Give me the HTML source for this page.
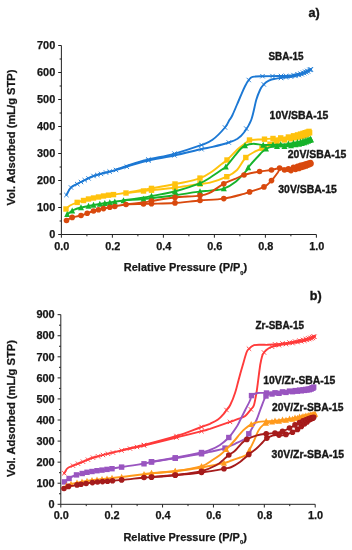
<!DOCTYPE html>
<html><head><meta charset="utf-8"><title>Isotherms</title>
<style>
html,body{margin:0;padding:0;background:#fff;}
body{width:352px;height:550px;overflow:hidden;}
svg{display:block;}
text{font-family:"Liberation Sans",sans-serif;font-weight:bold;fill:#151515;stroke:#151515;stroke-width:0.25px;}
.tk{font-size:10.9px;}
.ti{font-size:11.1px;}
.lb{font-size:10.6px;stroke-width:0.35px;}
.hd{font-size:12.6px;stroke-width:0.35px;}
</style></head><body>
<svg width="352" height="550" viewBox="0 0 352 550">
<rect width="352" height="550" fill="#fff"/>
<defs><filter id="soft" x="0" y="0" width="352" height="550" filterUnits="userSpaceOnUse"><feGaussianBlur stdDeviation="0.4"/></filter></defs>
<g id="chart-a" filter="url(#soft)">
<path d="M61.4,45.5V234.5H316.4" fill="none" stroke="#222" stroke-width="1"/>
<path d="M58.2,234.50H61.4" stroke="#222" stroke-width="1"/>
<text x="55.2" y="238.20" text-anchor="end" class="tk">0</text>
<path d="M59.6,221.00H61.4" stroke="#222" stroke-width="1"/>
<path d="M58.2,207.50H61.4" stroke="#222" stroke-width="1"/>
<text x="55.2" y="211.20" text-anchor="end" class="tk">100</text>
<path d="M59.6,194.00H61.4" stroke="#222" stroke-width="1"/>
<path d="M58.2,180.50H61.4" stroke="#222" stroke-width="1"/>
<text x="55.2" y="184.20" text-anchor="end" class="tk">200</text>
<path d="M59.6,167.00H61.4" stroke="#222" stroke-width="1"/>
<path d="M58.2,153.50H61.4" stroke="#222" stroke-width="1"/>
<text x="55.2" y="157.20" text-anchor="end" class="tk">300</text>
<path d="M59.6,140.00H61.4" stroke="#222" stroke-width="1"/>
<path d="M58.2,126.50H61.4" stroke="#222" stroke-width="1"/>
<text x="55.2" y="130.20" text-anchor="end" class="tk">400</text>
<path d="M59.6,113.00H61.4" stroke="#222" stroke-width="1"/>
<path d="M58.2,99.50H61.4" stroke="#222" stroke-width="1"/>
<text x="55.2" y="103.20" text-anchor="end" class="tk">500</text>
<path d="M59.6,86.00H61.4" stroke="#222" stroke-width="1"/>
<path d="M58.2,72.50H61.4" stroke="#222" stroke-width="1"/>
<text x="55.2" y="76.20" text-anchor="end" class="tk">600</text>
<path d="M59.6,59.00H61.4" stroke="#222" stroke-width="1"/>
<path d="M58.2,45.50H61.4" stroke="#222" stroke-width="1"/>
<text x="55.2" y="49.20" text-anchor="end" class="tk">700</text>
<path d="M61.40,234.5v3.2" stroke="#222" stroke-width="1"/>
<text x="61.80" y="249.6" text-anchor="middle" class="tk">0.0</text>
<path d="M86.90,234.5v1.8" stroke="#222" stroke-width="1"/>
<path d="M112.40,234.5v3.2" stroke="#222" stroke-width="1"/>
<text x="112.80" y="249.6" text-anchor="middle" class="tk">0.2</text>
<path d="M137.90,234.5v1.8" stroke="#222" stroke-width="1"/>
<path d="M163.40,234.5v3.2" stroke="#222" stroke-width="1"/>
<text x="163.80" y="249.6" text-anchor="middle" class="tk">0.4</text>
<path d="M188.90,234.5v1.8" stroke="#222" stroke-width="1"/>
<path d="M214.40,234.5v3.2" stroke="#222" stroke-width="1"/>
<text x="214.80" y="249.6" text-anchor="middle" class="tk">0.6</text>
<path d="M239.90,234.5v1.8" stroke="#222" stroke-width="1"/>
<path d="M265.40,234.5v3.2" stroke="#222" stroke-width="1"/>
<text x="265.80" y="249.6" text-anchor="middle" class="tk">0.8</text>
<path d="M290.90,234.5v1.8" stroke="#222" stroke-width="1"/>
<path d="M316.40,234.5v3.2" stroke="#222" stroke-width="1"/>
<text x="316.80" y="249.6" text-anchor="middle" class="tk">1.0</text>
<path d="M66.4,195.0C67.2,193.8 68.6,189.7 71.0,187.5C73.4,185.3 77.2,183.9 81.0,182.0C84.8,180.1 89.3,177.6 93.5,176.0C97.7,174.4 102.2,173.5 106.0,172.5C109.8,171.5 109.7,171.8 116.0,170.0C122.3,168.2 134.3,163.9 144.0,161.5C153.7,159.1 164.5,157.5 174.0,155.5C183.5,153.5 194.6,150.7 201.0,149.3C207.4,147.9 207.9,148.0 212.5,146.9C217.1,145.8 224.6,143.9 228.8,142.5C232.9,141.1 235.0,140.4 237.5,138.8C240.0,137.1 241.7,135.6 244.0,132.5C246.3,129.4 249.2,125.4 251.2,120.0C253.3,114.6 254.8,105.0 256.2,100.0C257.7,95.0 258.8,92.6 260.0,90.0C261.2,87.4 262.3,86.0 263.8,84.4C265.2,82.8 266.9,81.5 268.8,80.6C270.6,79.7 272.5,79.2 275.0,78.8C277.5,78.2 281.8,77.9 284.0,77.6C286.2,77.3 286.8,77.2 288.5,77.0C290.2,76.8 291.9,76.6 294.0,76.2C296.1,75.8 298.8,75.3 301.0,74.6C303.2,73.9 305.6,72.7 307.0,72.0C308.4,71.3 308.9,71.0 309.5,70.6C310.1,70.2 310.6,69.8 310.8,69.6" fill="none" stroke="#1b78d4" stroke-width="1.9" stroke-linejoin="round" stroke-linecap="round"/>
<path d="M310.8,69.1C310.6,69.2 310.4,69.5 309.8,69.8C309.2,70.1 308.5,70.4 307.0,71.0C305.5,71.6 303.2,72.8 301.0,73.5C298.8,74.2 296.1,74.6 294.0,75.0C291.9,75.4 290.2,75.6 288.5,75.8C286.8,76.0 286.7,76.0 284.0,76.0C281.3,76.0 276.1,76.1 272.5,76.1C268.9,76.1 265.8,76.1 262.5,76.2C259.2,76.3 254.8,76.3 252.5,76.9C250.2,77.5 250.0,78.4 248.8,80.0C247.5,81.6 246.5,83.3 245.0,86.2C243.5,89.2 242.1,92.7 240.0,97.5C237.9,102.3 234.3,111.2 232.5,115.0C230.7,118.8 230.7,117.9 229.4,120.0C228.2,122.1 227.8,124.2 225.0,127.5C222.2,130.8 216.5,136.9 212.5,139.8C208.5,142.8 207.4,142.9 201.0,145.2C194.6,147.5 183.5,151.2 174.0,153.8C164.5,156.4 153.7,157.9 144.0,160.5C134.3,163.1 120.7,168.0 116.0,169.5" fill="none" stroke="#1b78d4" stroke-width="1.9" stroke-linejoin="round" stroke-linecap="round"/>
<path d="M64.2,192.8L68.6,197.2M64.2,197.2L68.6,192.8" stroke="#1b78d4" stroke-width="0.9" fill="none"/>
<path d="M68.8,185.3L73.2,189.7M68.8,189.7L73.2,185.3" stroke="#1b78d4" stroke-width="0.9" fill="none"/>
<path d="M75.0,181.9L79.5,186.3M75.0,186.3L79.5,181.9" stroke="#1b78d4" stroke-width="0.9" fill="none"/>
<path d="M78.8,179.8L83.2,184.2M78.8,184.2L83.2,179.8" stroke="#1b78d4" stroke-width="0.9" fill="none"/>
<path d="M82.5,178.0L87.0,182.4M82.5,182.4L87.0,178.0" stroke="#1b78d4" stroke-width="0.9" fill="none"/>
<path d="M86.3,176.2L90.7,180.6M86.3,180.6L90.7,176.2" stroke="#1b78d4" stroke-width="0.9" fill="none"/>
<path d="M91.3,173.8L95.7,178.2M91.3,178.2L95.7,173.8" stroke="#1b78d4" stroke-width="0.9" fill="none"/>
<path d="M95.0,172.8L99.5,177.1M95.0,177.1L99.5,172.8" stroke="#1b78d4" stroke-width="0.9" fill="none"/>
<path d="M98.8,171.7L103.2,176.1M98.8,176.1L103.2,171.7" stroke="#1b78d4" stroke-width="0.9" fill="none"/>
<path d="M103.8,170.3L108.2,174.7M103.8,174.7L108.2,170.3" stroke="#1b78d4" stroke-width="0.9" fill="none"/>
<path d="M107.5,169.4L112.0,173.8M107.5,173.8L112.0,169.4" stroke="#1b78d4" stroke-width="0.9" fill="none"/>
<path d="M113.8,167.8L118.2,172.2M113.8,172.2L118.2,167.8" stroke="#1b78d4" stroke-width="0.9" fill="none"/>
<path d="M124.6,164.5L129.0,168.9M124.6,168.9L129.0,164.5" stroke="#1b78d4" stroke-width="0.9" fill="none"/>
<path d="M146.2,158.4L150.6,162.8M146.2,162.8L150.6,158.4" stroke="#1b78d4" stroke-width="0.9" fill="none"/>
<path d="M172.3,153.2L176.7,157.6M172.3,157.6L176.7,153.2" stroke="#1b78d4" stroke-width="0.9" fill="none"/>
<path d="M199.3,147.0L203.7,151.4M199.3,151.4L203.7,147.0" stroke="#1b78d4" stroke-width="0.9" fill="none"/>
<path d="M226.6,140.3L230.9,144.7M226.6,144.7L230.9,140.3" stroke="#1b78d4" stroke-width="0.9" fill="none"/>
<path d="M244.1,126.4L248.4,130.8M244.1,130.8L248.4,126.4" stroke="#1b78d4" stroke-width="0.9" fill="none"/>
<path d="M261.6,82.2L265.9,86.6M261.6,86.6L265.9,82.2" stroke="#1b78d4" stroke-width="0.9" fill="none"/>
<path d="M278.8,75.8L283.2,80.2M278.8,80.2L283.2,75.8" stroke="#1b78d4" stroke-width="0.9" fill="none"/>
<path d="M283.8,75.1L288.2,79.5M283.8,79.5L288.2,75.1" stroke="#1b78d4" stroke-width="0.9" fill="none"/>
<path d="M288.8,74.4L293.2,78.8M288.8,78.8L293.2,74.4" stroke="#1b78d4" stroke-width="0.9" fill="none"/>
<path d="M293.3,73.7L297.7,78.1M293.3,78.1L297.7,73.7" stroke="#1b78d4" stroke-width="0.9" fill="none"/>
<path d="M296.8,72.9L301.2,77.3M296.8,77.3L301.2,72.9" stroke="#1b78d4" stroke-width="0.9" fill="none"/>
<path d="M299.6,72.1L304.0,76.5M299.6,76.5L304.0,72.1" stroke="#1b78d4" stroke-width="0.9" fill="none"/>
<path d="M302.0,71.0L306.4,75.4M302.0,75.4L306.4,71.0" stroke="#1b78d4" stroke-width="0.9" fill="none"/>
<path d="M304.0,70.1L308.4,74.5M304.0,74.5L308.4,70.1" stroke="#1b78d4" stroke-width="0.9" fill="none"/>
<path d="M305.8,69.2L310.2,73.6M305.8,73.6L310.2,69.2" stroke="#1b78d4" stroke-width="0.9" fill="none"/>
<path d="M308.4,67.6L312.8,72.0M308.4,72.0L312.8,67.6" stroke="#1b78d4" stroke-width="0.9" fill="none"/>
<path d="M260.3,74.0L264.7,78.4M260.3,78.4L264.7,74.0" stroke="#1b78d4" stroke-width="0.9" fill="none"/>
<path d="M270.3,73.9L274.7,78.3M270.3,78.3L274.7,73.9" stroke="#1b78d4" stroke-width="0.9" fill="none"/>
<path d="M278.8,73.8L283.2,78.2M278.8,78.2L283.2,73.8" stroke="#1b78d4" stroke-width="0.9" fill="none"/>
<path d="M283.8,73.7L288.2,78.1M283.8,78.1L288.2,73.7" stroke="#1b78d4" stroke-width="0.9" fill="none"/>
<path d="M246.6,77.8L250.9,82.2M246.6,82.2L250.9,77.8" stroke="#1b78d4" stroke-width="0.9" fill="none"/>
<path d="M222.8,125.3L227.2,129.7M222.8,129.7L227.2,125.3" stroke="#1b78d4" stroke-width="0.9" fill="none"/>
<path d="M199.3,142.8L203.7,147.2M199.3,147.2L203.7,142.8" stroke="#1b78d4" stroke-width="0.9" fill="none"/>
<path d="M172.3,151.4L176.7,155.8M172.3,155.8L176.7,151.4" stroke="#1b78d4" stroke-width="0.9" fill="none"/>
<path d="M146.2,157.3L150.6,161.7M146.2,161.7L150.6,157.3" stroke="#1b78d4" stroke-width="0.9" fill="none"/>
<path d="M291.3,72.9L295.7,77.3M291.3,77.3L295.7,72.9" stroke="#1b78d4" stroke-width="0.9" fill="none"/>
<path d="M295.3,72.0L299.7,76.5M295.3,76.5L299.7,72.0" stroke="#1b78d4" stroke-width="0.9" fill="none"/>
<path d="M298.3,71.4L302.7,75.8M298.3,75.8L302.7,71.4" stroke="#1b78d4" stroke-width="0.9" fill="none"/>
<path d="M300.8,70.5L305.2,74.9M300.8,74.9L305.2,70.5" stroke="#1b78d4" stroke-width="0.9" fill="none"/>
<path d="M303.0,69.5L307.4,74.0M303.0,74.0L307.4,69.5" stroke="#1b78d4" stroke-width="0.9" fill="none"/>
<path d="M305.0,68.7L309.4,73.1M305.0,73.1L309.4,68.7" stroke="#1b78d4" stroke-width="0.9" fill="none"/>
<path d="M307.4,67.7L311.8,72.1M307.4,72.1L311.8,67.7" stroke="#1b78d4" stroke-width="0.9" fill="none"/>
<path d="M308.5,67.0L312.9,71.4M308.5,71.4L312.9,67.0" stroke="#1b78d4" stroke-width="0.9" fill="none"/>
<path d="M65.5,209.4C66.2,208.8 68.1,206.7 70.0,205.5C71.9,204.3 73.9,203.6 77.0,202.5C80.1,201.4 83.7,200.2 88.5,199.0C93.3,197.8 99.8,196.5 106.0,195.5C112.2,194.5 119.8,193.8 126.0,193.0C132.2,192.2 135.1,191.9 143.5,191.0C151.9,190.1 167.2,188.7 176.5,187.5C185.8,186.3 193.4,184.8 199.0,184.0C204.6,183.2 205.4,183.9 210.0,182.7C214.6,181.5 222.3,178.8 226.8,176.7C231.3,174.6 233.8,173.2 237.0,170.0C240.2,166.8 242.6,160.6 245.8,157.5C248.9,154.4 252.4,153.1 255.8,151.2C259.1,149.4 262.9,147.8 266.0,146.2C269.1,144.7 271.0,142.9 274.5,141.8C278.0,140.7 282.8,140.4 287.0,139.6C291.2,138.8 296.3,137.8 299.5,137.0C302.7,136.2 304.2,135.5 306.0,134.8C307.8,134.1 309.3,133.0 310.0,132.6" fill="none" stroke="#ffc20a" stroke-width="1.9" stroke-linejoin="round" stroke-linecap="round"/>
<path d="M310.0,131.0C309.3,131.2 307.8,131.9 306.0,132.5C304.2,133.1 302.7,133.6 299.5,134.4C296.3,135.2 291.2,136.6 287.0,137.3C282.8,138.0 278.2,138.1 274.5,138.4C270.8,138.7 268.7,138.9 264.5,139.2C260.3,139.5 252.4,139.6 249.5,140.0C246.6,140.4 248.9,140.4 247.0,141.9C245.1,143.4 241.6,145.7 238.2,148.8C234.9,151.8 229.7,157.5 227.0,160.0C224.3,162.5 224.4,161.9 222.0,163.8C219.6,165.6 216.3,168.8 212.5,171.2C208.7,173.7 205.0,176.6 199.0,178.7C193.0,180.8 184.5,182.1 176.5,183.8C168.5,185.4 158.8,187.1 151.0,188.5C143.2,189.9 133.5,191.4 130.0,192.0" fill="none" stroke="#ffc20a" stroke-width="1.9" stroke-linejoin="round" stroke-linecap="round"/>
<rect x="63.3" y="206.3" width="5.4" height="5.4" fill="#ffc20a"/>
<rect x="74.5" y="199.7" width="5.4" height="5.4" fill="#ffc20a"/>
<rect x="80.8" y="197.8" width="5.4" height="5.4" fill="#ffc20a"/>
<rect x="85.8" y="196.3" width="5.4" height="5.4" fill="#ffc20a"/>
<rect x="90.8" y="195.3" width="5.4" height="5.4" fill="#ffc20a"/>
<rect x="95.8" y="194.3" width="5.4" height="5.4" fill="#ffc20a"/>
<rect x="100.8" y="193.3" width="5.4" height="5.4" fill="#ffc20a"/>
<rect x="105.8" y="192.5" width="5.4" height="5.4" fill="#ffc20a"/>
<rect x="110.8" y="191.9" width="5.4" height="5.4" fill="#ffc20a"/>
<rect x="123.3" y="190.3" width="5.4" height="5.4" fill="#ffc20a"/>
<rect x="140.8" y="188.3" width="5.4" height="5.4" fill="#ffc20a"/>
<rect x="148.8" y="187.5" width="5.4" height="5.4" fill="#ffc20a"/>
<rect x="172.3" y="185.0" width="5.4" height="5.4" fill="#ffc20a"/>
<rect x="197.3" y="181.2" width="5.4" height="5.4" fill="#ffc20a"/>
<rect x="224.1" y="174.0" width="5.4" height="5.4" fill="#ffc20a"/>
<rect x="243.1" y="154.8" width="5.4" height="5.4" fill="#ffc20a"/>
<rect x="259.3" y="145.5" width="5.4" height="5.4" fill="#ffc20a"/>
<rect x="267.3" y="141.5" width="5.4" height="5.4" fill="#ffc20a"/>
<rect x="274.3" y="138.7" width="5.4" height="5.4" fill="#ffc20a"/>
<rect x="281.8" y="137.3" width="5.4" height="5.4" fill="#ffc20a"/>
<rect x="288.3" y="136.1" width="5.4" height="5.4" fill="#ffc20a"/>
<rect x="292.8" y="135.1" width="5.4" height="5.4" fill="#ffc20a"/>
<rect x="296.3" y="134.4" width="5.4" height="5.4" fill="#ffc20a"/>
<rect x="299.1" y="133.5" width="5.4" height="5.4" fill="#ffc20a"/>
<rect x="301.5" y="132.7" width="5.4" height="5.4" fill="#ffc20a"/>
<rect x="303.5" y="132.0" width="5.4" height="5.4" fill="#ffc20a"/>
<rect x="305.3" y="131.0" width="5.4" height="5.4" fill="#ffc20a"/>
<rect x="306.9" y="130.1" width="5.4" height="5.4" fill="#ffc20a"/>
<rect x="148.8" y="185.7" width="5.4" height="5.4" fill="#ffc20a"/>
<rect x="172.3" y="181.3" width="5.4" height="5.4" fill="#ffc20a"/>
<rect x="197.3" y="175.4" width="5.4" height="5.4" fill="#ffc20a"/>
<rect x="224.3" y="157.3" width="5.4" height="5.4" fill="#ffc20a"/>
<rect x="246.8" y="137.3" width="5.4" height="5.4" fill="#ffc20a"/>
<rect x="261.8" y="136.5" width="5.4" height="5.4" fill="#ffc20a"/>
<rect x="270.3" y="135.8" width="5.4" height="5.4" fill="#ffc20a"/>
<rect x="278.0" y="135.2" width="5.4" height="5.4" fill="#ffc20a"/>
<rect x="285.7" y="134.3" width="5.4" height="5.4" fill="#ffc20a"/>
<rect x="290.8" y="133.1" width="5.4" height="5.4" fill="#ffc20a"/>
<rect x="294.8" y="132.2" width="5.4" height="5.4" fill="#ffc20a"/>
<rect x="297.8" y="131.4" width="5.4" height="5.4" fill="#ffc20a"/>
<rect x="300.3" y="130.7" width="5.4" height="5.4" fill="#ffc20a"/>
<rect x="302.5" y="130.0" width="5.4" height="5.4" fill="#ffc20a"/>
<rect x="304.5" y="129.4" width="5.4" height="5.4" fill="#ffc20a"/>
<rect x="306.3" y="128.7" width="5.4" height="5.4" fill="#ffc20a"/>
<path d="M67.0,214.4C68.1,213.7 71.2,211.2 73.5,210.0C75.8,208.8 77.7,208.3 81.0,207.5C84.3,206.7 89.3,205.8 93.5,205.0C97.7,204.2 101.0,203.8 106.0,203.0C111.0,202.2 117.2,201.2 123.5,200.5C129.8,199.8 134.7,199.9 143.5,199.0C152.3,198.1 167.2,196.2 176.5,195.0C185.8,193.8 193.4,192.3 199.0,191.6C204.6,190.9 205.9,191.1 210.0,190.6C214.1,190.1 219.5,190.1 223.8,188.6C228.1,187.1 231.8,184.8 235.7,181.7C239.6,178.6 244.9,172.4 247.0,170.0C249.1,167.6 246.6,169.6 248.2,167.5C249.9,165.4 254.0,160.6 257.0,157.5C260.0,154.4 263.0,150.6 266.0,148.8C269.0,146.9 271.5,146.7 275.0,146.2C278.5,145.8 282.9,146.6 287.0,146.2C291.1,145.8 296.3,144.6 299.5,143.9C302.7,143.2 304.1,142.7 306.0,142.0C307.9,141.3 310.2,140.2 311.0,139.8" fill="none" stroke="#17b32b" stroke-width="1.9" stroke-linejoin="round" stroke-linecap="round"/>
<path d="M311.0,139.0C310.2,139.2 307.9,139.9 306.0,140.4C304.1,140.9 302.7,141.3 299.5,141.9C296.3,142.5 291.2,143.7 287.0,144.2C282.8,144.7 278.5,144.7 274.5,144.8C270.5,144.9 266.8,145.2 263.2,145.0C259.7,144.8 256.3,143.7 253.2,143.8C250.2,143.8 247.1,144.8 245.0,145.6C242.9,146.4 242.5,147.0 240.8,148.8C239.0,150.5 237.0,153.2 234.5,156.2C232.0,159.3 227.8,164.7 225.8,166.9C223.7,169.1 224.6,167.7 222.0,169.5C219.4,171.3 213.8,175.3 210.0,177.7C206.2,180.1 204.6,181.5 199.0,183.7C193.4,185.9 184.4,188.9 176.5,191.0C168.6,193.1 156.9,194.9 151.5,196.0C146.1,197.1 148.7,196.8 144.0,197.5C139.3,198.2 126.9,199.8 123.5,200.3" fill="none" stroke="#17b32b" stroke-width="1.9" stroke-linejoin="round" stroke-linecap="round"/>
<path d="M67.2,210.9L70.2,216.9L64.2,216.9Z" fill="#17b32b"/>
<path d="M72.2,207.5L75.2,213.5L69.2,213.5Z" fill="#17b32b"/>
<path d="M81.0,204.2L84.0,210.2L78.0,210.2Z" fill="#17b32b"/>
<path d="M88.5,202.7L91.5,208.7L85.5,208.7Z" fill="#17b32b"/>
<path d="M93.5,201.7L96.5,207.7L90.5,207.7Z" fill="#17b32b"/>
<path d="M99.8,200.7L102.8,206.7L96.8,206.7Z" fill="#17b32b"/>
<path d="M104.8,199.9L107.8,205.9L101.8,205.9Z" fill="#17b32b"/>
<path d="M109.8,199.2L112.8,205.2L106.8,205.2Z" fill="#17b32b"/>
<path d="M114.8,198.5L117.8,204.4L111.8,204.4Z" fill="#17b32b"/>
<path d="M123.5,197.2L126.5,203.2L120.5,203.2Z" fill="#17b32b"/>
<path d="M143.5,195.7L146.5,201.7L140.5,201.7Z" fill="#17b32b"/>
<path d="M151.5,194.7L154.5,200.7L148.5,200.7Z" fill="#17b32b"/>
<path d="M175.0,191.9L178.0,197.9L172.0,197.9Z" fill="#17b32b"/>
<path d="M200.0,188.2L203.0,194.2L197.0,194.2Z" fill="#17b32b"/>
<path d="M223.8,185.3L226.8,191.3L220.8,191.3Z" fill="#17b32b"/>
<path d="M248.2,164.2L251.2,170.2L245.2,170.2Z" fill="#17b32b"/>
<path d="M266.0,145.5L269.0,151.4L263.0,151.4Z" fill="#17b32b"/>
<path d="M277.0,142.9L280.0,148.9L274.0,148.9Z" fill="#17b32b"/>
<path d="M284.5,142.9L287.5,148.9L281.5,148.9Z" fill="#17b32b"/>
<path d="M291.0,142.2L294.0,148.2L288.0,148.2Z" fill="#17b32b"/>
<path d="M295.5,141.3L298.5,147.3L292.5,147.3Z" fill="#17b32b"/>
<path d="M299.0,140.7L302.0,146.7L296.0,146.7Z" fill="#17b32b"/>
<path d="M301.8,139.9L304.8,145.9L298.8,145.9Z" fill="#17b32b"/>
<path d="M304.2,139.2L307.2,145.2L301.2,145.2Z" fill="#17b32b"/>
<path d="M306.2,138.6L309.2,144.6L303.2,144.6Z" fill="#17b32b"/>
<path d="M308.0,137.8L311.0,143.8L305.0,143.8Z" fill="#17b32b"/>
<path d="M309.6,137.1L312.6,143.1L306.6,143.1Z" fill="#17b32b"/>
<path d="M311.0,136.5L314.0,142.5L308.0,142.5Z" fill="#17b32b"/>
<path d="M151.5,192.7L154.5,198.7L148.5,198.7Z" fill="#17b32b"/>
<path d="M175.0,188.0L178.0,194.0L172.0,194.0Z" fill="#17b32b"/>
<path d="M200.0,179.9L203.0,185.9L197.0,185.9Z" fill="#17b32b"/>
<path d="M225.8,163.6L228.8,169.6L222.8,169.6Z" fill="#17b32b"/>
<path d="M245.0,142.3L248.0,148.3L242.0,148.3Z" fill="#17b32b"/>
<path d="M263.2,141.7L266.2,147.7L260.2,147.7Z" fill="#17b32b"/>
<path d="M273.0,141.5L276.0,147.5L270.0,147.5Z" fill="#17b32b"/>
<path d="M280.7,141.2L283.7,147.2L277.7,147.2Z" fill="#17b32b"/>
<path d="M288.4,140.6L291.4,146.6L285.4,146.6Z" fill="#17b32b"/>
<path d="M293.5,139.7L296.5,145.7L290.5,145.7Z" fill="#17b32b"/>
<path d="M297.5,139.0L300.5,145.0L294.5,145.0Z" fill="#17b32b"/>
<path d="M300.5,138.4L303.5,144.4L297.5,144.4Z" fill="#17b32b"/>
<path d="M303.0,137.8L306.0,143.8L300.0,143.8Z" fill="#17b32b"/>
<path d="M305.2,137.3L308.2,143.3L302.2,143.3Z" fill="#17b32b"/>
<path d="M307.2,136.8L310.2,142.8L304.2,142.8Z" fill="#17b32b"/>
<path d="M309.0,136.3L312.0,142.3L306.0,142.3Z" fill="#17b32b"/>
<path d="M310.5,135.8L313.5,141.8L307.5,141.8Z" fill="#17b32b"/>
<path d="M66.4,220.6C67.3,220.1 69.6,218.3 72.0,217.5C74.4,216.7 77.4,216.6 81.0,215.5C84.6,214.4 89.3,212.2 93.5,211.0C97.7,209.8 100.6,209.1 106.0,208.0C111.4,206.9 119.8,205.2 126.0,204.5C132.2,203.8 139.2,204.1 143.5,204.0C147.8,203.9 146.4,203.9 151.5,203.8C156.6,203.6 165.9,203.5 174.0,203.0C182.1,202.5 191.7,201.2 200.0,200.5C208.3,199.8 216.5,199.7 223.8,198.6C231.1,197.5 239.7,194.9 244.0,193.8C248.3,192.6 246.3,193.0 249.6,191.9C252.9,190.8 260.4,188.8 264.0,186.9C267.6,185.0 269.2,183.0 271.5,180.6C273.8,178.2 276.4,174.4 277.8,172.5C279.1,170.6 278.7,169.9 279.6,169.4C280.5,168.9 281.5,169.2 283.0,169.5C284.5,169.8 286.5,171.2 288.5,171.2C290.5,171.2 292.7,170.3 294.8,169.7C296.8,169.1 298.9,168.5 301.0,167.8C303.1,167.1 305.5,166.2 307.2,165.5C309.0,164.8 310.8,163.8 311.5,163.5" fill="none" stroke="#d9480b" stroke-width="1.9" stroke-linejoin="round" stroke-linecap="round"/>
<path d="M311.5,162.2C310.8,162.4 309.0,163.0 307.2,163.5C305.5,164.0 303.1,164.7 301.0,165.3C298.9,165.9 296.9,166.5 294.8,167.1C292.6,167.7 290.5,168.6 288.0,168.8C285.5,169.0 282.4,167.9 279.6,168.1C276.9,168.3 274.8,169.4 271.5,170.0C268.2,170.6 264.2,170.7 259.6,171.5C255.0,172.3 248.0,173.8 244.0,175.0C240.0,176.2 239.1,177.2 235.7,178.7C232.3,180.1 228.1,181.4 223.8,183.7C219.5,186.0 214.0,190.6 210.0,192.6C206.0,194.6 206.0,194.8 200.0,195.6C194.0,196.4 182.1,196.6 174.0,197.5C165.9,198.4 156.5,200.2 151.5,201.0C146.5,201.8 148.2,201.9 144.0,202.5C139.8,203.1 129.0,204.0 126.0,204.3" fill="none" stroke="#d9480b" stroke-width="1.9" stroke-linejoin="round" stroke-linecap="round"/>
<circle cx="66.5" cy="220.5" r="2.8" fill="#d9480b"/>
<circle cx="72.2" cy="217.4" r="2.8" fill="#d9480b"/>
<circle cx="81.0" cy="215.5" r="2.8" fill="#d9480b"/>
<circle cx="87.2" cy="213.2" r="2.8" fill="#d9480b"/>
<circle cx="93.5" cy="211.0" r="2.8" fill="#d9480b"/>
<circle cx="98.5" cy="209.8" r="2.8" fill="#d9480b"/>
<circle cx="103.5" cy="208.6" r="2.8" fill="#d9480b"/>
<circle cx="109.8" cy="207.3" r="2.8" fill="#d9480b"/>
<circle cx="114.8" cy="206.5" r="2.8" fill="#d9480b"/>
<circle cx="126.0" cy="204.5" r="2.8" fill="#d9480b"/>
<circle cx="143.5" cy="204.0" r="2.8" fill="#d9480b"/>
<circle cx="151.5" cy="203.8" r="2.8" fill="#d9480b"/>
<circle cx="175.0" cy="202.9" r="2.8" fill="#d9480b"/>
<circle cx="200.0" cy="200.5" r="2.8" fill="#d9480b"/>
<circle cx="223.8" cy="198.6" r="2.8" fill="#d9480b"/>
<circle cx="249.6" cy="191.9" r="2.8" fill="#d9480b"/>
<circle cx="264.0" cy="186.9" r="2.8" fill="#d9480b"/>
<circle cx="271.5" cy="180.6" r="2.8" fill="#d9480b"/>
<circle cx="284.5" cy="170.0" r="2.8" fill="#d9480b"/>
<circle cx="291.0" cy="170.6" r="2.8" fill="#d9480b"/>
<circle cx="295.5" cy="169.5" r="2.8" fill="#d9480b"/>
<circle cx="299.0" cy="168.4" r="2.8" fill="#d9480b"/>
<circle cx="301.8" cy="167.5" r="2.8" fill="#d9480b"/>
<circle cx="304.2" cy="166.6" r="2.8" fill="#d9480b"/>
<circle cx="306.2" cy="165.9" r="2.8" fill="#d9480b"/>
<circle cx="308.0" cy="165.1" r="2.8" fill="#d9480b"/>
<circle cx="309.6" cy="164.4" r="2.8" fill="#d9480b"/>
<circle cx="311.0" cy="163.7" r="2.8" fill="#d9480b"/>
<circle cx="151.5" cy="201.0" r="2.8" fill="#d9480b"/>
<circle cx="175.0" cy="197.4" r="2.8" fill="#d9480b"/>
<circle cx="200.0" cy="195.6" r="2.8" fill="#d9480b"/>
<circle cx="223.8" cy="183.7" r="2.8" fill="#d9480b"/>
<circle cx="244.0" cy="175.0" r="2.8" fill="#d9480b"/>
<circle cx="259.6" cy="171.5" r="2.8" fill="#d9480b"/>
<circle cx="271.5" cy="170.0" r="2.8" fill="#d9480b"/>
<circle cx="279.6" cy="168.1" r="2.8" fill="#d9480b"/>
<circle cx="288.4" cy="168.7" r="2.8" fill="#d9480b"/>
<circle cx="293.5" cy="167.4" r="2.8" fill="#d9480b"/>
<circle cx="297.5" cy="166.3" r="2.8" fill="#d9480b"/>
<circle cx="300.5" cy="165.4" r="2.8" fill="#d9480b"/>
<circle cx="303.0" cy="164.7" r="2.8" fill="#d9480b"/>
<circle cx="305.2" cy="164.1" r="2.8" fill="#d9480b"/>
<circle cx="307.2" cy="163.5" r="2.8" fill="#d9480b"/>
<circle cx="309.0" cy="163.0" r="2.8" fill="#d9480b"/>
<circle cx="310.5" cy="162.5" r="2.8" fill="#d9480b"/>
<text class="hd" x="308.6" y="17.2">a)</text>
<text class="lb" x="268.4" y="59.8" textLength="35.2" lengthAdjust="spacingAndGlyphs">SBA-15</text>
<text class="lb" x="269.6" y="119.2" textLength="58.7" lengthAdjust="spacingAndGlyphs">10V/SBA-15</text>
<text class="lb" x="287.8" y="158" textLength="58.5" lengthAdjust="spacingAndGlyphs">20V/SBA-15</text>
<text class="lb" x="278.3" y="193" textLength="58.5" lengthAdjust="spacingAndGlyphs">30V/SBA-15</text>
<text class="ti" x="123.8" y="271.3" textLength="123.4" lengthAdjust="spacingAndGlyphs">Relative Pressure (P/P<tspan font-size="5.8px" dy="3.3">0</tspan><tspan dy="-3.3">)</tspan></text>
<text class="ti" transform="translate(15.1,205.6) rotate(-90)" textLength="136" lengthAdjust="spacingAndGlyphs">Vol. Adsorbed (mL/g STP)</text>
</g>
<g id="chart-b" filter="url(#soft)">
<path d="M60.8,314.6V504.3H315.2" fill="none" stroke="#222" stroke-width="1"/>
<path d="M57.6,504.30H60.8" stroke="#222" stroke-width="1"/>
<text x="54.6" y="508.00" text-anchor="end" class="tk">0</text>
<path d="M59.0,493.76H60.8" stroke="#222" stroke-width="1"/>
<path d="M57.6,483.23H60.8" stroke="#222" stroke-width="1"/>
<text x="54.6" y="486.93" text-anchor="end" class="tk">100</text>
<path d="M59.0,472.69H60.8" stroke="#222" stroke-width="1"/>
<path d="M57.6,462.16H60.8" stroke="#222" stroke-width="1"/>
<text x="54.6" y="465.86" text-anchor="end" class="tk">200</text>
<path d="M59.0,451.62H60.8" stroke="#222" stroke-width="1"/>
<path d="M57.6,441.09H60.8" stroke="#222" stroke-width="1"/>
<text x="54.6" y="444.79" text-anchor="end" class="tk">300</text>
<path d="M59.0,430.56H60.8" stroke="#222" stroke-width="1"/>
<path d="M57.6,420.02H60.8" stroke="#222" stroke-width="1"/>
<text x="54.6" y="423.72" text-anchor="end" class="tk">400</text>
<path d="M59.0,409.48H60.8" stroke="#222" stroke-width="1"/>
<path d="M57.6,398.95H60.8" stroke="#222" stroke-width="1"/>
<text x="54.6" y="402.65" text-anchor="end" class="tk">500</text>
<path d="M59.0,388.42H60.8" stroke="#222" stroke-width="1"/>
<path d="M57.6,377.88H60.8" stroke="#222" stroke-width="1"/>
<text x="54.6" y="381.58" text-anchor="end" class="tk">600</text>
<path d="M59.0,367.34H60.8" stroke="#222" stroke-width="1"/>
<path d="M57.6,356.81H60.8" stroke="#222" stroke-width="1"/>
<text x="54.6" y="360.51" text-anchor="end" class="tk">700</text>
<path d="M59.0,346.27H60.8" stroke="#222" stroke-width="1"/>
<path d="M57.6,335.74H60.8" stroke="#222" stroke-width="1"/>
<text x="54.6" y="339.44" text-anchor="end" class="tk">800</text>
<path d="M59.0,325.20H60.8" stroke="#222" stroke-width="1"/>
<path d="M57.6,314.67H60.8" stroke="#222" stroke-width="1"/>
<text x="54.6" y="318.37" text-anchor="end" class="tk">900</text>
<path d="M60.80,504.3v3.2" stroke="#222" stroke-width="1"/>
<text x="61.20" y="519.4" text-anchor="middle" class="tk">0.0</text>
<path d="M86.24,504.3v1.8" stroke="#222" stroke-width="1"/>
<path d="M111.68,504.3v3.2" stroke="#222" stroke-width="1"/>
<text x="112.08" y="519.4" text-anchor="middle" class="tk">0.2</text>
<path d="M137.12,504.3v1.8" stroke="#222" stroke-width="1"/>
<path d="M162.56,504.3v3.2" stroke="#222" stroke-width="1"/>
<text x="162.96" y="519.4" text-anchor="middle" class="tk">0.4</text>
<path d="M188.00,504.3v1.8" stroke="#222" stroke-width="1"/>
<path d="M213.44,504.3v3.2" stroke="#222" stroke-width="1"/>
<text x="213.84" y="519.4" text-anchor="middle" class="tk">0.6</text>
<path d="M238.88,504.3v1.8" stroke="#222" stroke-width="1"/>
<path d="M264.32,504.3v3.2" stroke="#222" stroke-width="1"/>
<text x="264.72" y="519.4" text-anchor="middle" class="tk">0.8</text>
<path d="M289.76,504.3v1.8" stroke="#222" stroke-width="1"/>
<path d="M315.20,504.3v3.2" stroke="#222" stroke-width="1"/>
<text x="315.60" y="519.4" text-anchor="middle" class="tk">1.0</text>
<path d="M64.2,473.4C64.3,473.2 64.3,473.0 65.0,472.0C65.7,471.0 65.8,469.1 68.5,467.5C71.2,465.9 76.8,464.2 81.0,462.5C85.2,460.8 89.3,458.9 93.5,457.5C97.7,456.1 101.0,455.5 106.0,454.2C111.0,453.0 117.2,451.5 123.5,450.0C129.8,448.5 135.2,447.6 144.0,445.5C152.8,443.4 166.9,439.9 176.5,437.5C186.1,435.1 195.9,432.7 201.5,431.2C207.1,429.8 205.2,430.3 210.0,428.8C214.8,427.2 225.2,423.6 230.0,421.9C234.8,420.2 236.5,419.6 239.0,418.6C241.5,417.6 243.3,417.5 245.2,416.0C247.2,414.5 249.4,411.2 250.9,409.4C252.4,407.6 253.1,407.8 254.0,405.0C254.9,402.2 255.8,396.7 256.5,392.5C257.2,388.3 257.6,384.6 258.2,380.0C258.8,375.4 259.6,369.0 260.2,365.0C260.9,361.0 261.5,358.3 262.1,356.2C262.7,354.2 263.0,353.8 264.0,352.5C265.0,351.2 266.7,349.7 268.0,348.8C269.3,347.8 270.0,347.3 272.0,346.7C274.0,346.1 276.6,345.6 280.0,345.0C283.4,344.4 288.3,343.8 292.5,343.1C296.7,342.4 301.8,341.4 305.0,340.6C308.2,339.8 310.4,338.9 312.0,338.2C313.6,337.5 314.3,336.9 314.8,336.6" fill="none" stroke="#ff3a3a" stroke-width="1.9" stroke-linejoin="round" stroke-linecap="round"/>
<path d="M314.8,336.1C314.3,336.3 313.6,336.6 312.0,337.2C310.4,337.8 308.2,338.7 305.0,339.5C301.8,340.3 296.7,341.3 292.5,342.0C288.3,342.7 284.1,343.4 280.0,343.9C275.9,344.4 271.1,344.7 268.0,344.8C264.9,344.9 263.8,344.7 261.5,344.8C259.2,344.8 256.1,344.6 254.0,345.2C251.9,345.9 250.2,347.5 249.0,348.8C247.8,350.0 247.5,349.8 246.5,352.5C245.5,355.2 244.1,360.4 242.8,365.0C241.4,369.6 239.8,375.4 238.6,380.0C237.3,384.6 236.6,388.3 235.2,392.5C233.9,396.7 231.7,402.1 230.2,405.0C228.8,407.9 227.5,408.6 226.5,410.0C225.5,411.4 225.4,411.9 224.0,413.5C222.6,415.1 220.3,417.8 218.0,419.5C215.7,421.2 213.0,422.4 210.0,423.8C207.0,425.1 205.6,425.5 200.0,427.5C194.4,429.5 185.8,433.1 176.5,436.0C167.2,438.9 152.8,442.7 144.0,445.0C135.2,447.3 126.9,449.0 123.5,449.8" fill="none" stroke="#ff3a3a" stroke-width="1.9" stroke-linejoin="round" stroke-linecap="round"/>
<path d="M62.1,471.0L66.5,475.4M62.1,475.4L66.5,471.0" stroke="#ff3a3a" stroke-width="0.9" fill="none"/>
<path d="M70.8,463.5L75.2,467.9M70.8,467.9L75.2,463.5" stroke="#ff3a3a" stroke-width="0.9" fill="none"/>
<path d="M75.8,461.5L80.2,465.9M75.8,465.9L80.2,461.5" stroke="#ff3a3a" stroke-width="0.9" fill="none"/>
<path d="M80.8,459.5L85.2,463.9M80.8,463.9L85.2,459.5" stroke="#ff3a3a" stroke-width="0.9" fill="none"/>
<path d="M85.8,457.5L90.2,461.9M85.8,461.9L90.2,457.5" stroke="#ff3a3a" stroke-width="0.9" fill="none"/>
<path d="M90.8,455.5L95.2,459.9M90.8,459.9L95.2,455.5" stroke="#ff3a3a" stroke-width="0.9" fill="none"/>
<path d="M95.8,454.1L100.2,458.5M95.8,458.5L100.2,454.1" stroke="#ff3a3a" stroke-width="0.9" fill="none"/>
<path d="M100.8,452.8L105.2,457.2M100.8,457.2L105.2,452.8" stroke="#ff3a3a" stroke-width="0.9" fill="none"/>
<path d="M105.8,451.6L110.2,456.0M105.8,456.0L110.2,451.6" stroke="#ff3a3a" stroke-width="0.9" fill="none"/>
<path d="M110.8,450.4L115.2,454.8M110.8,454.8L115.2,450.4" stroke="#ff3a3a" stroke-width="0.9" fill="none"/>
<path d="M119.4,448.3L123.8,452.7M119.4,452.7L123.8,448.3" stroke="#ff3a3a" stroke-width="0.9" fill="none"/>
<path d="M127.8,446.4L132.2,450.8M127.8,450.8L132.2,446.4" stroke="#ff3a3a" stroke-width="0.9" fill="none"/>
<path d="M134.8,444.8L139.2,449.2M134.8,449.2L139.2,444.8" stroke="#ff3a3a" stroke-width="0.9" fill="none"/>
<path d="M141.8,443.3L146.2,447.7M141.8,447.7L146.2,443.3" stroke="#ff3a3a" stroke-width="0.9" fill="none"/>
<path d="M174.3,435.3L178.7,439.7M174.3,439.7L178.7,435.3" stroke="#ff3a3a" stroke-width="0.9" fill="none"/>
<path d="M199.3,429.1L203.7,433.4M199.3,433.4L203.7,429.1" stroke="#ff3a3a" stroke-width="0.9" fill="none"/>
<path d="M227.8,419.7L232.2,424.1M227.8,424.1L232.2,419.7" stroke="#ff3a3a" stroke-width="0.9" fill="none"/>
<path d="M248.7,407.2L253.1,411.6M248.7,411.6L253.1,407.2" stroke="#ff3a3a" stroke-width="0.9" fill="none"/>
<path d="M261.8,350.3L266.2,354.7M261.8,354.7L266.2,350.3" stroke="#ff3a3a" stroke-width="0.9" fill="none"/>
<path d="M269.8,344.5L274.2,348.9M269.8,348.9L274.2,344.5" stroke="#ff3a3a" stroke-width="0.9" fill="none"/>
<path d="M276.8,343.0L281.2,347.4M276.8,347.4L281.2,343.0" stroke="#ff3a3a" stroke-width="0.9" fill="none"/>
<path d="M283.8,341.9L288.2,346.3M283.8,346.3L288.2,341.9" stroke="#ff3a3a" stroke-width="0.9" fill="none"/>
<path d="M290.3,340.9L294.7,345.3M290.3,345.3L294.7,340.9" stroke="#ff3a3a" stroke-width="0.9" fill="none"/>
<path d="M295.3,339.9L299.7,344.3M295.3,344.3L299.7,339.9" stroke="#ff3a3a" stroke-width="0.9" fill="none"/>
<path d="M299.1,339.1L303.5,343.5M299.1,343.5L303.5,339.1" stroke="#ff3a3a" stroke-width="0.9" fill="none"/>
<path d="M302.2,338.5L306.6,342.9M302.2,342.9L306.6,338.5" stroke="#ff3a3a" stroke-width="0.9" fill="none"/>
<path d="M304.8,337.7L309.2,342.1M304.8,342.1L309.2,337.7" stroke="#ff3a3a" stroke-width="0.9" fill="none"/>
<path d="M307.1,336.9L311.5,341.3M307.1,341.3L311.5,336.9" stroke="#ff3a3a" stroke-width="0.9" fill="none"/>
<path d="M309.0,336.3L313.4,340.7M309.0,340.7L313.4,336.3" stroke="#ff3a3a" stroke-width="0.9" fill="none"/>
<path d="M310.7,335.5L315.1,339.9M310.7,339.9L315.1,335.5" stroke="#ff3a3a" stroke-width="0.9" fill="none"/>
<path d="M312.2,334.6L316.6,339.0M312.2,339.0L316.6,334.6" stroke="#ff3a3a" stroke-width="0.9" fill="none"/>
<path d="M246.8,346.6L251.2,350.9M246.8,350.9L251.2,346.6" stroke="#ff3a3a" stroke-width="0.9" fill="none"/>
<path d="M224.3,407.8L228.7,412.2M224.3,412.2L228.7,407.8" stroke="#ff3a3a" stroke-width="0.9" fill="none"/>
<path d="M199.3,424.7L203.7,429.1M199.3,429.1L203.7,424.7" stroke="#ff3a3a" stroke-width="0.9" fill="none"/>
<path d="M174.3,433.8L178.7,438.2M174.3,438.2L178.7,433.8" stroke="#ff3a3a" stroke-width="0.9" fill="none"/>
<path d="M141.8,442.8L146.2,447.2M141.8,447.2L146.2,442.8" stroke="#ff3a3a" stroke-width="0.9" fill="none"/>
<path d="M272.8,342.1L277.2,346.5M272.8,346.5L277.2,342.1" stroke="#ff3a3a" stroke-width="0.9" fill="none"/>
<path d="M280.3,341.3L284.7,345.7M280.3,345.7L284.7,341.3" stroke="#ff3a3a" stroke-width="0.9" fill="none"/>
<path d="M287.3,340.3L291.7,344.7M287.3,344.7L291.7,340.3" stroke="#ff3a3a" stroke-width="0.9" fill="none"/>
<path d="M292.8,339.3L297.2,343.7M292.8,343.7L297.2,339.3" stroke="#ff3a3a" stroke-width="0.9" fill="none"/>
<path d="M297.3,338.4L301.7,342.8M297.3,342.8L301.7,338.4" stroke="#ff3a3a" stroke-width="0.9" fill="none"/>
<path d="M300.8,337.7L305.2,342.1M300.8,342.1L305.2,337.7" stroke="#ff3a3a" stroke-width="0.9" fill="none"/>
<path d="M303.6,337.0L308.0,341.4M303.6,341.4L308.0,337.0" stroke="#ff3a3a" stroke-width="0.9" fill="none"/>
<path d="M306.0,336.2L310.4,340.6M306.0,340.6L310.4,336.2" stroke="#ff3a3a" stroke-width="0.9" fill="none"/>
<path d="M308.1,335.6L312.5,340.0M308.1,340.0L312.5,335.6" stroke="#ff3a3a" stroke-width="0.9" fill="none"/>
<path d="M309.9,335.0L314.3,339.4M309.9,339.4L314.3,335.0" stroke="#ff3a3a" stroke-width="0.9" fill="none"/>
<path d="M311.5,334.3L315.9,338.7M311.5,338.7L315.9,334.3" stroke="#ff3a3a" stroke-width="0.9" fill="none"/>
<path d="M63.8,482.5C64.5,481.9 66.5,480.0 68.5,478.8C70.5,477.5 73.1,476.0 76.0,475.0C78.9,474.0 82.2,473.2 86.0,472.5C89.8,471.8 94.8,471.0 98.5,470.5C102.2,470.0 104.3,469.9 108.5,469.2C112.7,468.6 117.6,467.7 123.5,466.8C129.4,465.8 139.3,464.5 144.0,463.8C148.7,463.0 146.3,462.9 151.5,462.0C156.7,461.1 166.9,459.6 175.2,458.2C183.6,456.9 195.7,454.8 201.5,453.8C207.3,452.7 206.1,452.8 210.0,451.9C213.9,451.0 220.8,449.5 225.0,448.1C229.2,446.7 231.7,445.3 235.0,443.8C238.3,442.2 242.7,440.4 245.0,438.8C247.3,437.1 247.5,435.6 248.8,433.8C250.0,431.9 251.2,429.8 252.5,427.5C253.8,425.2 255.2,422.9 256.5,420.0C257.8,417.1 259.0,413.3 260.2,410.0C261.5,406.7 263.0,402.5 264.0,400.0C265.0,397.5 265.5,396.0 266.5,395.0C267.5,394.0 268.8,394.1 270.0,393.9C271.2,393.7 270.5,394.3 273.5,394.0C276.5,393.7 284.1,392.6 287.8,392.2C291.6,391.8 293.5,391.6 296.0,391.3C298.5,391.0 300.7,390.9 303.0,390.6C305.3,390.3 308.1,390.1 310.0,389.6C311.9,389.1 313.5,387.9 314.2,387.6" fill="none" stroke="#9954c0" stroke-width="1.9" stroke-linejoin="round" stroke-linecap="round"/>
<path d="M314.2,386.9C313.5,387.2 311.9,388.3 310.0,388.8C308.1,389.3 305.3,389.5 303.0,389.8C300.7,390.1 298.5,390.3 296.0,390.5C293.5,390.7 291.6,390.8 287.8,391.2C284.1,391.6 277.1,392.7 273.5,393.0C269.9,393.3 269.1,393.0 266.5,393.0C263.9,393.0 260.2,392.6 257.8,393.0C255.2,393.4 252.8,394.4 251.5,395.6C250.2,396.8 251.3,397.6 250.2,400.0C249.2,402.4 246.9,406.7 245.2,410.0C243.6,413.3 241.8,417.1 240.2,420.0C238.8,422.9 238.2,424.6 236.2,427.5C234.3,430.4 231.5,434.6 228.8,437.5C226.0,440.4 223.1,442.9 220.0,445.0C216.9,447.1 213.1,448.8 210.0,450.0C206.9,451.2 207.3,451.2 201.5,452.5C195.7,453.8 183.6,456.3 175.2,457.8C166.9,459.3 155.5,461.1 151.5,461.7" fill="none" stroke="#9954c0" stroke-width="1.9" stroke-linejoin="round" stroke-linecap="round"/>
<rect x="61.8" y="479.2" width="5.4" height="5.4" fill="#9954c0"/>
<rect x="66.4" y="475.8" width="5.4" height="5.4" fill="#9954c0"/>
<rect x="73.8" y="472.2" width="5.4" height="5.4" fill="#9954c0"/>
<rect x="79.5" y="470.8" width="5.4" height="5.4" fill="#9954c0"/>
<rect x="84.3" y="469.6" width="5.4" height="5.4" fill="#9954c0"/>
<rect x="89.3" y="468.8" width="5.4" height="5.4" fill="#9954c0"/>
<rect x="94.3" y="468.0" width="5.4" height="5.4" fill="#9954c0"/>
<rect x="99.3" y="467.4" width="5.4" height="5.4" fill="#9954c0"/>
<rect x="104.3" y="466.7" width="5.4" height="5.4" fill="#9954c0"/>
<rect x="109.3" y="466.0" width="5.4" height="5.4" fill="#9954c0"/>
<rect x="118.9" y="464.4" width="5.4" height="5.4" fill="#9954c0"/>
<rect x="141.3" y="461.1" width="5.4" height="5.4" fill="#9954c0"/>
<rect x="148.8" y="459.3" width="5.4" height="5.4" fill="#9954c0"/>
<rect x="172.6" y="455.6" width="5.4" height="5.4" fill="#9954c0"/>
<rect x="198.8" y="451.1" width="5.4" height="5.4" fill="#9954c0"/>
<rect x="222.3" y="445.4" width="5.4" height="5.4" fill="#9954c0"/>
<rect x="246.1" y="431.1" width="5.4" height="5.4" fill="#9954c0"/>
<rect x="263.3" y="393.3" width="5.4" height="5.4" fill="#9954c0"/>
<rect x="269.3" y="391.3" width="5.4" height="5.4" fill="#9954c0"/>
<rect x="276.3" y="390.6" width="5.4" height="5.4" fill="#9954c0"/>
<rect x="283.3" y="389.7" width="5.4" height="5.4" fill="#9954c0"/>
<rect x="289.8" y="389.0" width="5.4" height="5.4" fill="#9954c0"/>
<rect x="294.8" y="388.5" width="5.4" height="5.4" fill="#9954c0"/>
<rect x="298.6" y="388.1" width="5.4" height="5.4" fill="#9954c0"/>
<rect x="301.7" y="387.7" width="5.4" height="5.4" fill="#9954c0"/>
<rect x="304.3" y="387.3" width="5.4" height="5.4" fill="#9954c0"/>
<rect x="306.6" y="387.0" width="5.4" height="5.4" fill="#9954c0"/>
<rect x="308.5" y="386.3" width="5.4" height="5.4" fill="#9954c0"/>
<rect x="310.2" y="385.5" width="5.4" height="5.4" fill="#9954c0"/>
<rect x="148.8" y="459.0" width="5.4" height="5.4" fill="#9954c0"/>
<rect x="172.6" y="455.1" width="5.4" height="5.4" fill="#9954c0"/>
<rect x="198.8" y="449.8" width="5.4" height="5.4" fill="#9954c0"/>
<rect x="226.1" y="434.8" width="5.4" height="5.4" fill="#9954c0"/>
<rect x="248.8" y="392.9" width="5.4" height="5.4" fill="#9954c0"/>
<rect x="263.8" y="390.3" width="5.4" height="5.4" fill="#9954c0"/>
<rect x="272.3" y="390.1" width="5.4" height="5.4" fill="#9954c0"/>
<rect x="279.8" y="389.2" width="5.4" height="5.4" fill="#9954c0"/>
<rect x="286.8" y="388.4" width="5.4" height="5.4" fill="#9954c0"/>
<rect x="292.3" y="387.9" width="5.4" height="5.4" fill="#9954c0"/>
<rect x="296.8" y="387.4" width="5.4" height="5.4" fill="#9954c0"/>
<rect x="300.3" y="387.1" width="5.4" height="5.4" fill="#9954c0"/>
<rect x="303.1" y="386.7" width="5.4" height="5.4" fill="#9954c0"/>
<rect x="305.5" y="386.4" width="5.4" height="5.4" fill="#9954c0"/>
<rect x="307.6" y="386.0" width="5.4" height="5.4" fill="#9954c0"/>
<rect x="309.4" y="385.1" width="5.4" height="5.4" fill="#9954c0"/>
<rect x="311.0" y="384.4" width="5.4" height="5.4" fill="#9954c0"/>
<path d="M66.0,486.0C66.8,485.7 68.5,484.7 71.0,484.0C73.5,483.3 77.2,482.7 81.0,482.0C84.8,481.3 89.3,480.5 93.5,480.0C97.7,479.5 101.0,479.3 106.0,478.8C111.0,478.3 117.2,477.6 123.5,476.8C129.8,476.0 135.4,475.1 144.0,474.2C152.6,473.3 165.7,472.4 175.2,471.2C184.8,470.1 193.4,468.9 201.5,467.5C209.6,466.1 219.0,464.2 224.0,463.0C229.0,461.8 228.8,461.4 231.5,460.5C234.2,459.6 237.5,458.4 240.0,457.5C242.5,456.6 244.7,456.2 246.2,455.0C247.8,453.8 248.2,452.3 249.4,450.0C250.7,447.7 252.2,444.6 253.8,441.2C255.3,437.9 257.1,432.8 258.8,430.0C260.4,427.2 262.4,425.6 263.8,424.4C265.1,423.1 264.9,423.0 266.9,422.5C268.9,422.0 272.4,421.9 276.0,421.5C279.6,421.1 284.3,420.5 288.5,419.8C292.7,419.1 296.8,418.2 301.0,417.4C305.2,416.6 311.1,415.3 313.5,414.8C315.9,414.3 315.0,414.4 315.3,414.3" fill="none" stroke="#ff9a1e" stroke-width="1.9" stroke-linejoin="round" stroke-linecap="round"/>
<path d="M315.3,414.0C315.0,414.1 315.9,413.9 313.5,414.3C311.1,414.7 305.2,415.8 301.0,416.6C296.8,417.4 292.7,418.3 288.5,419.0C284.3,419.7 279.7,420.4 276.0,420.8C272.3,421.2 269.1,421.1 266.2,421.2C263.4,421.4 261.2,421.4 258.8,421.9C256.2,422.4 253.5,423.3 251.2,424.4C249.0,425.5 246.9,427.2 245.0,428.8C243.1,430.3 241.7,431.9 240.0,433.8C238.3,435.6 237.3,437.4 235.0,440.0C232.7,442.6 228.8,446.9 226.2,449.4C223.8,451.9 222.3,453.2 220.0,455.0C217.7,456.8 215.6,458.1 212.5,460.0C209.4,461.9 207.7,464.4 201.5,466.2C195.3,468.1 184.8,469.8 175.2,471.0C165.7,472.2 149.2,473.3 144.0,473.8" fill="none" stroke="#ff9a1e" stroke-width="1.9" stroke-linejoin="round" stroke-linecap="round"/>
<path d="M66.5,482.5L69.5,488.5L63.5,488.5Z" fill="#ff9a1e"/>
<path d="M71.0,480.7L74.0,486.7L68.0,486.7Z" fill="#ff9a1e"/>
<path d="M77.0,479.5L80.0,485.5L74.0,485.5Z" fill="#ff9a1e"/>
<path d="M82.0,478.5L85.0,484.5L79.0,484.5Z" fill="#ff9a1e"/>
<path d="M87.0,477.7L90.0,483.7L84.0,483.7Z" fill="#ff9a1e"/>
<path d="M92.0,476.9L95.0,482.9L89.0,482.9Z" fill="#ff9a1e"/>
<path d="M97.0,476.4L100.0,482.4L94.0,482.4Z" fill="#ff9a1e"/>
<path d="M102.0,475.9L105.0,481.9L99.0,481.9Z" fill="#ff9a1e"/>
<path d="M107.0,475.4L110.0,481.4L104.0,481.4Z" fill="#ff9a1e"/>
<path d="M112.0,474.8L115.0,480.8L109.0,480.8Z" fill="#ff9a1e"/>
<path d="M121.6,473.7L124.6,479.7L118.6,479.7Z" fill="#ff9a1e"/>
<path d="M144.0,470.9L147.0,476.9L141.0,476.9Z" fill="#ff9a1e"/>
<path d="M151.5,470.2L154.5,476.2L148.5,476.2Z" fill="#ff9a1e"/>
<path d="M175.2,467.9L178.2,473.9L172.2,473.9Z" fill="#ff9a1e"/>
<path d="M201.5,464.2L204.5,470.2L198.5,470.2Z" fill="#ff9a1e"/>
<path d="M224.0,459.7L227.0,465.7L221.0,465.7Z" fill="#ff9a1e"/>
<path d="M249.4,446.7L252.4,452.7L246.4,452.7Z" fill="#ff9a1e"/>
<path d="M266.0,419.7L269.0,425.7L263.0,425.7Z" fill="#ff9a1e"/>
<path d="M272.0,418.6L275.0,424.6L269.0,424.6Z" fill="#ff9a1e"/>
<path d="M279.0,417.8L282.0,423.8L276.0,423.8Z" fill="#ff9a1e"/>
<path d="M286.0,416.8L289.0,422.8L283.0,422.8Z" fill="#ff9a1e"/>
<path d="M292.5,415.7L295.5,421.7L289.5,421.7Z" fill="#ff9a1e"/>
<path d="M297.5,414.8L300.5,420.8L294.5,420.8Z" fill="#ff9a1e"/>
<path d="M301.3,414.0L304.3,420.0L298.3,420.0Z" fill="#ff9a1e"/>
<path d="M304.4,413.4L307.4,419.4L301.4,419.4Z" fill="#ff9a1e"/>
<path d="M307.0,412.9L310.0,418.9L304.0,418.9Z" fill="#ff9a1e"/>
<path d="M309.3,412.4L312.3,418.4L306.3,418.4Z" fill="#ff9a1e"/>
<path d="M311.2,412.0L314.2,418.0L308.2,418.0Z" fill="#ff9a1e"/>
<path d="M312.9,411.6L315.9,417.6L309.9,417.6Z" fill="#ff9a1e"/>
<path d="M314.4,411.2L317.4,417.2L311.4,417.2Z" fill="#ff9a1e"/>
<path d="M151.5,469.8L154.5,475.8L148.5,475.8Z" fill="#ff9a1e"/>
<path d="M175.2,467.7L178.2,473.7L172.2,473.7Z" fill="#ff9a1e"/>
<path d="M201.5,462.9L204.5,468.9L198.5,468.9Z" fill="#ff9a1e"/>
<path d="M226.2,446.1L229.2,452.1L223.2,452.1Z" fill="#ff9a1e"/>
<path d="M251.2,421.1L254.2,427.1L248.2,427.1Z" fill="#ff9a1e"/>
<path d="M266.2,417.9L269.2,423.9L263.2,423.9Z" fill="#ff9a1e"/>
<path d="M275.0,417.5L278.0,423.5L272.0,423.5Z" fill="#ff9a1e"/>
<path d="M282.5,416.6L285.5,422.6L279.5,422.6Z" fill="#ff9a1e"/>
<path d="M289.5,415.5L292.5,421.5L286.5,421.5Z" fill="#ff9a1e"/>
<path d="M295.0,414.5L298.0,420.5L292.0,420.5Z" fill="#ff9a1e"/>
<path d="M299.5,413.6L302.5,419.6L296.5,419.6Z" fill="#ff9a1e"/>
<path d="M303.0,412.9L306.0,418.9L300.0,418.9Z" fill="#ff9a1e"/>
<path d="M305.8,412.4L308.8,418.4L302.8,418.4Z" fill="#ff9a1e"/>
<path d="M308.2,412.0L311.2,418.0L305.2,418.0Z" fill="#ff9a1e"/>
<path d="M310.3,411.6L313.3,417.6L307.3,417.6Z" fill="#ff9a1e"/>
<path d="M312.1,411.3L315.1,417.3L309.1,417.3Z" fill="#ff9a1e"/>
<path d="M313.7,411.0L316.7,417.0L310.7,417.0Z" fill="#ff9a1e"/>
<path d="M315.1,410.7L318.1,416.7L312.1,416.7Z" fill="#ff9a1e"/>
<path d="M64.0,488.5C64.8,488.1 67.3,486.8 68.5,486.4C69.7,486.0 68.9,486.2 71.0,485.9C73.1,485.5 77.2,484.9 81.0,484.3C84.8,483.7 89.3,482.9 93.5,482.4C97.7,481.9 101.0,481.8 106.0,481.3C111.0,480.9 117.2,480.3 123.5,479.7C129.8,479.1 139.3,477.9 144.0,477.5C148.7,477.1 146.3,477.6 151.5,477.2C156.7,476.8 166.9,476.1 175.2,475.3C183.6,474.5 193.4,473.6 201.5,472.5C209.6,471.4 219.0,469.7 224.0,468.8C229.0,467.8 228.8,468.1 231.5,467.0C234.2,465.9 238.0,463.4 240.0,462.0C242.0,460.6 242.3,460.0 243.8,458.8C245.2,457.5 246.7,456.1 248.8,454.4C250.8,452.7 254.0,450.7 256.2,448.8C258.5,446.8 260.7,444.3 262.5,442.5C264.3,440.7 265.2,439.2 266.9,438.1C268.6,437.0 271.0,436.1 272.5,435.6C274.0,435.1 274.2,435.1 276.0,435.0C277.8,434.9 281.0,435.6 283.5,435.2C286.0,434.8 288.9,433.7 291.0,432.9C293.1,432.1 294.0,431.8 296.0,430.5C298.0,429.2 300.5,427.1 302.8,425.3C305.1,423.5 307.7,421.1 309.6,419.8C311.5,418.5 313.5,417.9 314.3,417.5" fill="none" stroke="#a51a1a" stroke-width="1.9" stroke-linejoin="round" stroke-linecap="round"/>
<path d="M314.3,417.0C313.5,417.2 311.5,417.6 309.6,418.2C307.7,418.8 305.1,419.9 302.8,420.9C300.5,421.9 298.0,423.2 296.0,424.3C294.0,425.4 293.1,426.2 291.0,427.3C288.9,428.4 286.0,430.0 283.5,430.9C281.0,431.8 279.1,432.4 276.2,432.9C273.4,433.4 269.6,433.3 266.2,433.8C262.9,434.2 259.5,434.7 256.2,435.6C253.0,436.5 249.2,438.2 246.9,439.4C244.6,440.5 244.5,440.6 242.5,442.5C240.5,444.4 237.3,448.7 235.0,450.8C232.7,452.9 230.9,453.3 228.8,455.0C226.6,456.7 224.0,459.3 222.0,461.0C220.0,462.7 219.9,463.3 216.5,465.0C213.1,466.7 208.4,469.6 201.5,471.2C194.6,472.9 183.6,474.0 175.2,475.0C166.9,476.0 155.5,476.7 151.5,477.0" fill="none" stroke="#a51a1a" stroke-width="1.9" stroke-linejoin="round" stroke-linecap="round"/>
<circle cx="64.0" cy="488.5" r="2.8" fill="#a51a1a"/>
<circle cx="68.5" cy="486.4" r="2.8" fill="#a51a1a"/>
<circle cx="77.0" cy="484.9" r="2.8" fill="#a51a1a"/>
<circle cx="81.0" cy="484.3" r="2.8" fill="#a51a1a"/>
<circle cx="86.1" cy="483.5" r="2.8" fill="#a51a1a"/>
<circle cx="92.4" cy="482.6" r="2.8" fill="#a51a1a"/>
<circle cx="97.5" cy="482.0" r="2.8" fill="#a51a1a"/>
<circle cx="102.5" cy="481.6" r="2.8" fill="#a51a1a"/>
<circle cx="107.5" cy="481.2" r="2.8" fill="#a51a1a"/>
<circle cx="112.5" cy="480.7" r="2.8" fill="#a51a1a"/>
<circle cx="121.6" cy="479.9" r="2.8" fill="#a51a1a"/>
<circle cx="144.0" cy="477.5" r="2.8" fill="#a51a1a"/>
<circle cx="151.5" cy="477.2" r="2.8" fill="#a51a1a"/>
<circle cx="175.2" cy="475.3" r="2.8" fill="#a51a1a"/>
<circle cx="201.5" cy="472.5" r="2.8" fill="#a51a1a"/>
<circle cx="224.0" cy="468.8" r="2.8" fill="#a51a1a"/>
<circle cx="248.8" cy="454.4" r="2.8" fill="#a51a1a"/>
<circle cx="266.9" cy="438.1" r="2.8" fill="#a51a1a"/>
<circle cx="279.0" cy="435.1" r="2.8" fill="#a51a1a"/>
<circle cx="286.0" cy="434.4" r="2.8" fill="#a51a1a"/>
<circle cx="292.5" cy="432.2" r="2.8" fill="#a51a1a"/>
<circle cx="297.5" cy="429.4" r="2.8" fill="#a51a1a"/>
<circle cx="301.3" cy="426.4" r="2.8" fill="#a51a1a"/>
<circle cx="304.4" cy="424.0" r="2.8" fill="#a51a1a"/>
<circle cx="307.0" cy="421.9" r="2.8" fill="#a51a1a"/>
<circle cx="309.3" cy="420.0" r="2.8" fill="#a51a1a"/>
<circle cx="311.2" cy="419.0" r="2.8" fill="#a51a1a"/>
<circle cx="312.9" cy="418.2" r="2.8" fill="#a51a1a"/>
<circle cx="151.5" cy="477.0" r="2.8" fill="#a51a1a"/>
<circle cx="175.2" cy="475.0" r="2.8" fill="#a51a1a"/>
<circle cx="201.5" cy="471.2" r="2.8" fill="#a51a1a"/>
<circle cx="228.8" cy="455.0" r="2.8" fill="#a51a1a"/>
<circle cx="246.9" cy="439.4" r="2.8" fill="#a51a1a"/>
<circle cx="266.2" cy="433.8" r="2.8" fill="#a51a1a"/>
<circle cx="275.0" cy="433.0" r="2.8" fill="#a51a1a"/>
<circle cx="282.5" cy="431.2" r="2.8" fill="#a51a1a"/>
<circle cx="289.5" cy="428.0" r="2.8" fill="#a51a1a"/>
<circle cx="295.0" cy="424.9" r="2.8" fill="#a51a1a"/>
<circle cx="299.5" cy="422.6" r="2.8" fill="#a51a1a"/>
<circle cx="303.0" cy="420.8" r="2.8" fill="#a51a1a"/>
<circle cx="305.8" cy="419.7" r="2.8" fill="#a51a1a"/>
<circle cx="308.2" cy="418.8" r="2.8" fill="#a51a1a"/>
<circle cx="310.3" cy="418.0" r="2.8" fill="#a51a1a"/>
<circle cx="312.1" cy="417.6" r="2.8" fill="#a51a1a"/>
<circle cx="313.7" cy="417.2" r="2.8" fill="#a51a1a"/>
<text class="hd" x="309.8" y="299.5">b)</text>
<text class="lb" x="255.5" y="329.1" textLength="48.4" lengthAdjust="spacingAndGlyphs">Zr-SBA-15</text>
<text class="lb" x="263.3" y="384.2" textLength="72" lengthAdjust="spacingAndGlyphs">10V/Zr-SBA-15</text>
<text class="lb" x="272" y="410.5" textLength="71.5" lengthAdjust="spacingAndGlyphs">20V/Zr-SBA-15</text>
<text class="lb" x="271.6" y="458.4" textLength="72.4" lengthAdjust="spacingAndGlyphs">30V/Zr-SBA-15</text>
<text class="ti" x="123.4" y="541" textLength="123.4" lengthAdjust="spacingAndGlyphs">Relative Pressure (P/P<tspan font-size="5.8px" dy="3.3">0</tspan><tspan dy="-3.3">)</tspan></text>
<text class="ti" transform="translate(14.7,477) rotate(-90)" textLength="137" lengthAdjust="spacingAndGlyphs">Vol. Adsorbed (mL/g STP)</text>
</g>
</svg>
</body></html>
